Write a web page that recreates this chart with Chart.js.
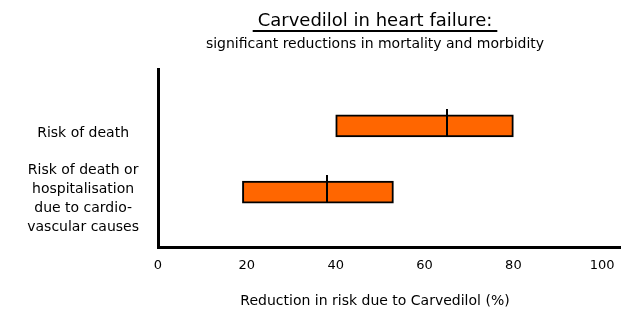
<!DOCTYPE html>
<html>
<head>
<meta charset="utf-8">
<script src="https://cdn.jsdelivr.net/npm/chart.js@4"></script>
<style>
  html, body { margin: 0; padding: 0; background: #fff; }
  #wrap { width: 640px; height: 324px; }
</style>
</head>
<body>
<div id="wrap"><canvas id="grafico"></canvas></div>
<script>
// outcomes and their reduction ranges (%)
const categories = [
  'Risk of death',
  ['Risk of death or', 'hospitalisation', 'due to cardio-', 'vascular causes']
]
const rangeLow = [40, 19]
const rangeHigh = [80, 53]
const pointEstimate = [65, 38]
const tickValues = [0, 20, 40, 60, 80, 100]

const heading = 'Carvedilol in heart failure:'
const subheading = 'significant reductions in mortality and morbidity'
const axisTitle = 'Reduction in risk due to Carvedilol (%)'

Chart.defaults.font.family = '"DejaVu Sans", sans-serif'
Chart.defaults.color = '#000'

const textCenter = 375

// vertical tick on each bar for the point estimate
const estimateMarks = {
  id: 'estimateMarks',
  afterDatasetsDraw(chart) {
    const ctx = chart.ctx
    const xs = chart.scales.x
    const bars = chart.getDatasetMeta(0).data
    ctx.save()
    ctx.strokeStyle = '#000'
    ctx.lineWidth = 2
    bars.forEach((bar, i) => {
      const x = Math.round(xs.getPixelForValue(pointEstimate[i]))
      ctx.beginPath()
      ctx.moveTo(x, bar.y - bar.height / 2 - 6)
      ctx.lineTo(x, bar.y + bar.height / 2)
      ctx.stroke()
    })
    ctx.restore()
  }
}

// headings and x-axis caption
const captions = {
  id: 'captions',
  afterDraw(chart) {
    const ctx = chart.ctx
    ctx.save()
    ctx.fillStyle = '#000'
    ctx.textAlign = 'center'
    ctx.textBaseline = 'middle'

    ctx.font = '18px "DejaVu Sans"'
    ctx.fillText(heading, textCenter, 21)
    const w = ctx.measureText(heading).width
    ctx.fillRect(textCenter - w / 2 - 5, 30, w + 10, 2)

    ctx.font = '14px "DejaVu Sans"'
    ctx.fillText(subheading, textCenter, 44)

    ctx.fillText(axisTitle, textCenter, 301)
    ctx.restore()
  }
}

const data = {
  datasets: [{
    data: categories.map((c, i) => ({ y: i, x: [rangeLow[i], rangeHigh[i]] })),
    backgroundColor: '#ff6600',
    borderColor: '#000',
    borderWidth: 2,
    borderSkipped: false,
    barThickness: 22
  }]
}

const config = {
  type: 'bar',
  data,
  plugins: [estimateMarks, captions],
  options: {
    indexAxis: 'y',
    responsive: true,
    maintainAspectRatio: false,
    animation: false,
    layout: { padding: { top: 69, right: 20, left: 0, bottom: 0 } },
    plugins: {
      legend: { display: false },
      tooltip: { enabled: false }
    },
    scales: {
      x: {
        type: 'linear',
        min: 0,
        max: 104,
        grid: { display: false },
        border: { display: true, color: '#000', width: 3 },
        afterBuildTicks: s => { s.ticks = tickValues.map(v => ({ value: v })) },
        afterFit: s => { s.height = 77 },
        ticks: { font: { size: 13 }, padding: 3, maxRotation: 0 }
      },
      y: {
        type: 'linear',
        reverse: true,
        offset: false,
        min: -0.86,
        max: 1.83,
        grid: { display: false, offset: false },
        border: { display: true, color: '#000', width: 3 },
        afterBuildTicks: s => { s.ticks = categories.map((c, i) => ({ value: i })) },
        afterFit: s => { s.width = 158 },
        ticks: {
          font: { size: 14, lineHeight: 1.35 },
          padding: 11,
          labelOffset: 7,
          crossAlign: 'center',
          callback: v => categories[v]
        }
      }
    }
  }
}

const graph = new Chart(document.getElementById('grafico'), config)
</script>
</body>
</html>
